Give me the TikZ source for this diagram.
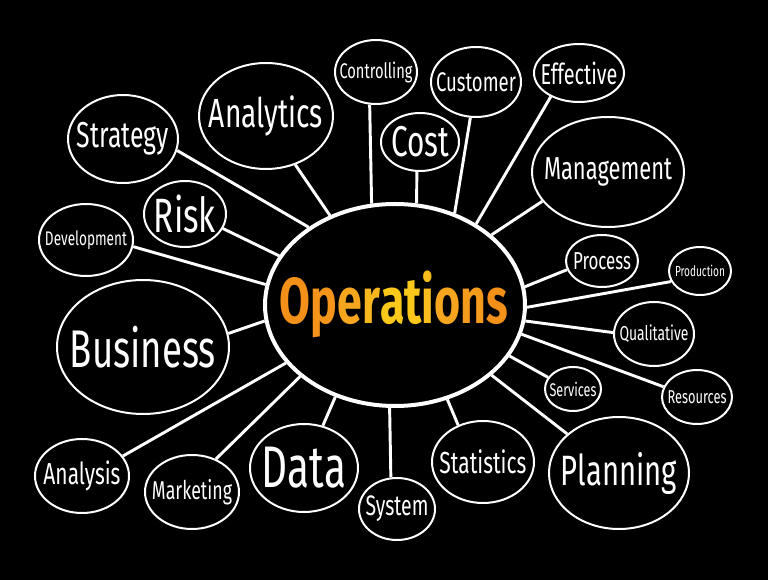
\documentclass[tikz,border=0pt]{standalone}
\usepackage{fontspec}
\setmainfont{Fira Sans}
\usetikzlibrary{shapes.geometric}
\newcommand\hw[2]{\resizebox{#1}{!}{\scalebox{1}[1.45]{#2}}}
\definecolor{opA}{HTML}{F39019}
\definecolor{opB}{HTML}{F6A51F}
\definecolor{opC}{HTML}{F9C81A}
\tikzset{
  bub/.style={ellipse, draw=white, line width=1.5pt, fill=black, inner sep=0pt},
  lbl/.style={text=white, inner sep=0pt},
  conn/.style={draw=white, line width=2.2pt},
}
\begin{document}
\begin{tikzpicture}[x=0.75pt, y=-0.75pt]
\fill[black] (0,0) rectangle (768,580);
\useasboundingbox (0,0) rectangle (768,580);
% central
\node[bub, line width=3pt, minimum width=195pt, minimum height=151.5pt] (op) at (395,305) {};
\node[inner sep=0pt] (optext) at (394,304) {\hw{171pt}{\bfseries\textcolor{opA}{O}\textcolor{opA!80!opB}{p}\textcolor{opB}{e}\textcolor{opB!50!opC}{r}\textcolor{opC}{a}\textcolor{opC}{t}\textcolor{opC!70!opB}{i}\textcolor{opB}{o}\textcolor{opB!50!opA}{n}\textcolor{opA}{s}}};
% bubbles
\node[bub, minimum width=61.5pt, minimum height=48pt, label={[lbl]center:\hw{54.75pt}{Controlling}}] (ctrl) at (376,72) {};
\node[bub, minimum width=67.5pt, minimum height=52.5pt, label={[lbl]center:\hw{60pt}{Customer}}] (cust) at (476,82) {};
\node[bub, minimum width=67.5pt, minimum height=43.5pt, label={[lbl]center:\hw{57.75pt}{Effective}}] (eff) at (579,73) {};
\node[bub, minimum width=58.5pt, minimum height=43.5pt, label={[lbl]center:\hw{43.5pt}{Cost}}] (cost) at (420,142) {};
\node[bub, minimum width=114pt, minimum height=82.5pt, label={[lbl]center:\hw{96pt}{Management}}] (mgmt) at (608,172) {};
\node[bub, minimum width=54pt, minimum height=39pt, label={[lbl]center:\hw{43.5pt}{Process}}] (proc) at (602,261) {};
\node[bub, minimum width=46.5pt, minimum height=36pt, label={[lbl]center:\hw{37.5pt}{Production}}] (prod) at (700,271) {};
\node[bub, minimum width=60pt, minimum height=48pt, label={[lbl]center:\hw{51.75pt}{Qualitative}}] (qual) at (654,334) {};
\node[bub, minimum width=42pt, minimum height=33pt, label={[lbl]center:\hw{35.25pt}{Services}}] (serv) at (573,389) {};
\node[bub, minimum width=52.5pt, minimum height=40.5pt, label={[lbl]center:\hw{44.25pt}{Resources}}] (res) at (697,397) {};
\node[bub, minimum width=105pt, minimum height=84pt, label={[lbl]center:\hw{87pt}{Planning}}] (plan) at (619,473) {};
\node[bub, minimum width=76.5pt, minimum height=61.5pt, label={[lbl]center:\hw{65.25pt}{Statistics}}] (stat) at (483,462) {};
\node[bub, minimum width=57pt, minimum height=46.5pt, label={[lbl]center:\hw{47.25pt}{System}}] (sys) at (397,509) {};
\node[bub, minimum width=81pt, minimum height=66pt, label={[lbl]center:\hw{63pt}{Data}}] (data) at (304,468) {};
\node[bub, minimum width=70.5pt, minimum height=55.5pt, label={[lbl]center:\hw{60pt}{Marketing}}] (mkt) at (192,492) {};
\node[bub, minimum width=70.5pt, minimum height=55.5pt, label={[lbl]center:\hw{57.75pt}{Analysis}}] (anls) at (82,476) {};
\node[bub, minimum width=129pt, minimum height=100.5pt, label={[lbl]center:\hw{109.5pt}{Business}}] (bus) at (143,347) {};
\node[bub, minimum width=70.5pt, minimum height=54pt, label={[lbl]center:\hw{61.5pt}{Development}}] (dev) at (86,240) {};
\node[bub, minimum width=61.5pt, minimum height=49.5pt, label={[lbl]center:\hw{46.5pt}{Risk}}] (risk) at (185,214) {};
\node[bub, minimum width=82.5pt, minimum height=66pt, label={[lbl]center:\hw{69pt}{Strategy}}] (strat) at (123,139) {};
\node[bub, minimum width=100.5pt, minimum height=79.5pt, label={[lbl]center:\hw{85.5pt}{Analytics}}] (anlt) at (266,116) {};
% connectors
\draw[conn] (ctrl.259.7) -- (op.103.6);
\draw[conn] (cust.261.9) -- (op.57);
\draw[conn] (eff.220.8) -- (op.45.3);
\draw[conn] (cost.264) -- (op.78.2);
\draw[conn] (mgmt.204.4) -- (op.36.3);
\draw[conn] (proc.194.4) -- (op.8.7);
\draw[conn] (prod.200.8) -- (op.-1.7);
\draw[conn] (qual.178.5) -- (op.-7.5);
\draw[conn] (res.163.8) -- (op.-13.4);
\draw[conn] (serv.155.4) -- (op.-24.4);
\draw[conn] (plan.143.7) -- (op.-36);
\draw[conn] (stat.124) -- (op.-61.8);
\draw[conn] (sys.101.7) -- (op.267.8);
\draw[conn] (data.66.2) -- (op.237);
\draw[conn] (mkt.54.5) -- (op.217.4);
\draw[conn] (anls.26) -- (op.208.2);
\draw[conn] (bus.9.1) -- (op.187.6);
\draw[conn] (dev.352.7) -- (op.171.4);
\draw[conn] (risk.339.3) -- (op.157.7);
\draw[conn] (strat.348.5) -- (op.138.8);
\draw[conn] (anlt.301.1) -- (op.126.5);
\end{tikzpicture}
\end{document}
